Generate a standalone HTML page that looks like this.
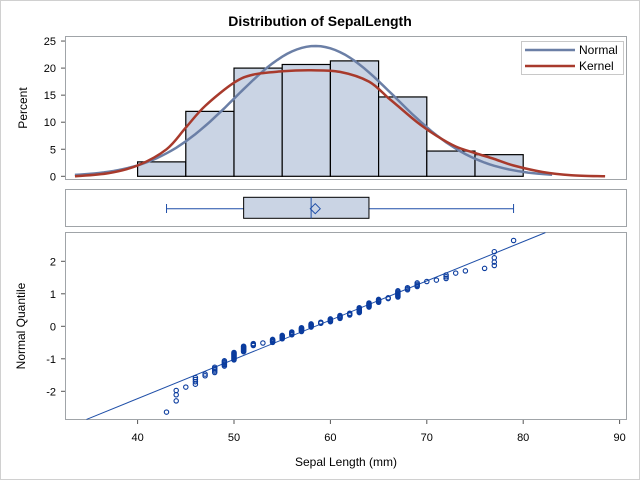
<!DOCTYPE html>
<html><head><style>
html,body{margin:0;padding:0;background:#fff;}
svg{display:block;font-family:"Liberation Sans",sans-serif;}
</style></head><body>
<svg id="s" width="640" height="480" xmlns="http://www.w3.org/2000/svg">
<rect x="0.5" y="0.5" width="639" height="479" fill="#fff" stroke="#d0d0d0"/>
<text x="320" y="26" text-anchor="middle" font-size="14" font-weight="bold">Distribution of SepalLength</text>
<rect x="65.5" y="36.5" width="561" height="143" fill="none" stroke="#a0a4a8"/>
<rect x="65.5" y="189.5" width="561" height="37" fill="none" stroke="#a0a4a8"/>
<rect x="65.5" y="232.5" width="561" height="187" fill="none" stroke="#a0a4a8"/>
<g id="g"></g>
<text x="27" y="108" transform="rotate(-90 27 108)" text-anchor="middle" font-size="12">Percent</text>
<text x="25" y="326" transform="rotate(-90 25 326)" text-anchor="middle" font-size="12">Normal Quantile</text>
<text x="346" y="466" text-anchor="middle" font-size="12">Sepal Length (mm)</text>
<rect x="521.5" y="41.5" width="102" height="33" fill="#fff" stroke="#c8c8c8"/>
<line x1="525" y1="50" x2="575" y2="50" stroke="#6b7fa6" stroke-width="2.5"/>
<line x1="525" y1="66" x2="575" y2="66" stroke="#a83a2c" stroke-width="2.5"/>
<text x="579" y="54" font-size="12">Normal</text>
<text x="579" y="70" font-size="12">Kernel</text>
</svg>
<script>
var g=document.getElementById('g'),h='';
function X(v){return 137.6+(v-40)*9.64;}
function Y(p){return 176.3-p*5.41;}
function Q(q){return 326.3-q*32.5;}
[0,5,10,15,20,25].forEach(function(t){var y=Y(t);h+='<line x1="61" x2="65" y1="'+y+'" y2="'+y+'" stroke="#555"/><text x="56" y="'+(y+4)+'" text-anchor="end" font-size="11">'+t+'</text>';});
[-2,-1,0,1,2].forEach(function(t){var y=Q(t);h+='<line x1="61" x2="65" y1="'+y+'" y2="'+y+'" stroke="#555"/><text x="56" y="'+(y+4)+'" text-anchor="end" font-size="11">'+t+'</text>';});
[40,50,60,70,80,90].forEach(function(t){var x=X(t);h+='<line x1="'+x+'" x2="'+x+'" y1="420" y2="424" stroke="#555"/><text x="'+x+'" y="441" text-anchor="middle" font-size="11">'+t+'</text>';});
var hts=[2.667,12,20,20.667,21.333,14.667,4.667,4];
hts.forEach(function(p,i){var x0=X(40+5*i),x1=X(45+5*i);h+='<rect x="'+x0+'" y="'+Y(p)+'" width="'+(x1-x0)+'" height="'+(Y(0)-Y(p))+'" fill="#cad4e4" stroke="#000" stroke-width="1.2"/>';});
var m=58.43,sd=8.28,pts=[];
for(var v=33.5;v<=83;v+=0.5){var p=500/(sd*2.5066)*Math.exp(-0.5*Math.pow((v-m)/sd,2));pts.push(X(v).toFixed(1)+','+Y(p).toFixed(1));}
h+='<polyline points="'+pts.join(' ')+'" fill="none" stroke="#6b7fa6" stroke-width="2.5"/>';
var k=[[33.5,0],[37,0.6],[40,2],[43,5],[45,9],[47,13],[50,17.3],[52,18.8],[55,19.4],[58,19.6],[61,19.3],[64,17.5],[66,14.5],[67,13],[69,10],[71,7.5],[73,5.5],[75,4.3],[77,3.2],[79,2],[82,0.8],[85,0.2],[88.5,0]];
var kp=k.map(function(a){return [X(a[0]),Y(a[1])];});
var d='M'+kp[0][0]+','+kp[0][1];
for(var i=0;i<kp.length-1;i++){var p0=kp[Math.max(0,i-1)],p1=kp[i],p2=kp[i+1],p3=kp[Math.min(kp.length-1,i+2)];
d+=' C'+(p1[0]+(p2[0]-p0[0])/6).toFixed(1)+','+(p1[1]+(p2[1]-p0[1])/6).toFixed(1)+' '+(p2[0]-(p3[0]-p1[0])/6).toFixed(1)+','+(p2[1]-(p3[1]-p1[1])/6).toFixed(1)+' '+p2[0].toFixed(1)+','+p2[1].toFixed(1);}
h+='<path d="'+d+'" fill="none" stroke="#a83a2c" stroke-width="2.5"/>';
h+='<line x1="'+X(43)+'" x2="'+X(51)+'" y1="208.7" y2="208.7" stroke="#1f4fa8"/><line x1="'+X(64)+'" x2="'+X(79)+'" y1="208.7" y2="208.7" stroke="#1f4fa8"/>';
h+='<line x1="'+X(43)+'" x2="'+X(43)+'" y1="204" y2="213" stroke="#1f4fa8"/><line x1="'+X(79)+'" x2="'+X(79)+'" y1="204" y2="213" stroke="#1f4fa8"/>';
h+='<rect x="'+X(51)+'" y="197.3" width="'+(X(64)-X(51))+'" height="21" fill="#cad4e4" stroke="#000"/>';
h+='<line x1="'+X(58)+'" x2="'+X(58)+'" y1="197.3" y2="218.3" stroke="#1f4fa8"/>';
var mx=X(m);h+='<polygon points="'+(mx-5)+',208.7 '+mx+',203.7 '+(mx+5)+',208.7 '+mx+',213.7" fill="none" stroke="#1f4fa8"/>';
function inv(p){var a=[-39.69683028665376,220.9460984245205,-275.9285104469687,138.357751867269,-30.66479806614716,2.506628277459239],b=[-54.47609879822406,161.5858368580409,-155.6989798598866,66.80131188771972,-13.28068155288572],c=[-0.007784894002430293,-0.3223964580411365,-2.400758277161838,-2.549732539343734,4.374664141464968,2.938163982698783],d=[0.007784695709041462,0.3224671290700398,2.445134137142996,3.754408661907416],q,r;
if(p<0.02425){q=Math.sqrt(-2*Math.log(p));return(((((c[0]*q+c[1])*q+c[2])*q+c[3])*q+c[4])*q+c[5])/((((d[0]*q+d[1])*q+d[2])*q+d[3])*q+1);}
if(p>1-0.02425){q=Math.sqrt(-2*Math.log(1-p));return-(((((c[0]*q+c[1])*q+c[2])*q+c[3])*q+c[4])*q+c[5])/((((d[0]*q+d[1])*q+d[2])*q+d[3])*q+1);}
q=p-0.5;r=q*q;return(((((a[0]*r+a[1])*r+a[2])*r+a[3])*r+a[4])*r+a[5])*q/(((((b[0]*r+b[1])*r+b[2])*r+b[3])*r+b[4])*r+1);}
var cnt={43:1,44:3,45:1,46:4,47:2,48:5,49:6,50:10,51:9,52:4,53:1,54:6,55:7,56:6,57:8,58:7,59:3,60:6,61:6,62:4,63:9,64:7,65:5,66:2,67:8,68:3,69:4,70:1,71:1,72:3,73:1,74:1,76:1,77:4,79:1};
var data=[];Object.keys(cnt).map(Number).sort(function(a,b){return a-b}).forEach(function(v){for(var i=0;i<cnt[v];i++)data.push(v);});
var lx0=34.7,lx1=82.3;
h+='<line x1="'+X(lx0)+'" y1="'+Q((lx0-m)/sd)+'" x2="'+X(lx1)+'" y2="'+Q((lx1-m)/sd)+'" stroke="#1f4fa8"/>';
data.forEach(function(v,i){var q=inv((i+1-0.375)/150.25);h+='<circle cx="'+X(v).toFixed(1)+'" cy="'+Q(q).toFixed(1)+'" r="2.2" fill="none" stroke="#0b3c9e" stroke-width="1.1"/>';});
g.innerHTML=h;
</script>
</body></html>
